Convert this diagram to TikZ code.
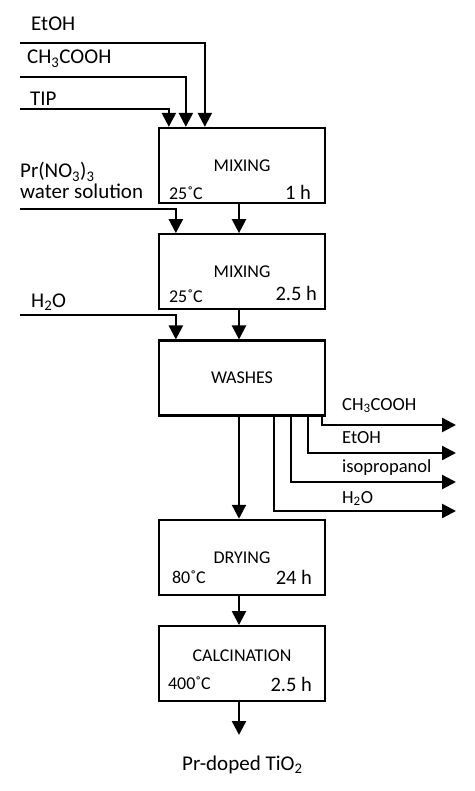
\documentclass[tikz,border=0pt]{standalone}
\usepackage{fontspec}
\setmainfont{Carlito}
\usetikzlibrary{
	positioning,
	calc,
	arrows.meta
}

\begin{document}
\begin{tikzpicture}[
	x=1pt, y=-1pt,
	node distance =29pt,
	stage/.style = {
		rectangle,
		draw,
		line width=2.3pt,
		minimum width=166pt,
		minimum height=75pt,
		font=\fontsize{18}{20}\selectfont
	},
	feed/.style = {anchor=base west, inner sep=0pt, font=\fontsize{21}{24}\selectfont},
	waste/.style = {anchor=base west, inner sep=0pt, font=\fontsize{18.5}{22}\selectfont},
	temp/.style = {anchor=base west, inner sep=0pt, font=\fontsize{18}{20}\selectfont},
	dur/.style = {anchor=base east, inner sep=0pt, font=\fontsize{20.5}{22}\selectfont},
	flow/.style = {line width=2.3pt, -{Triangle[length=14pt,width=14pt]}},
]
	\useasboundingbox (0,0) rectangle (474,791);

	\node (mix1) [stage] at (242,165.5) {MIXING};
	\node (mix2) [stage, below=of mix1] {MIXING};
	\node (wash) [stage, below=of mix2] {WASHES};
	\node (dry) [stage, below=102pt of wash] {DRYING};
	\node (calc) [stage, below=of dry, text depth=16pt] {CALCINATION};

	\node (mix1T) [temp] at ($(mix1.south west)+(11,-5)$) {25˚C};
	\node (mix1D) [dur] at ($(mix1.south east)+(-15,-5)$) {1 h};
	\node (mix2T) [temp] at ($(mix2.south west)+(11,-8)$) {25˚C};
	\node (mix2D) [dur] at ($(mix2.south east)+(-9,-10)$) {2.5 h};
	\node (dryT) [temp] at ($(dry.south west)+(14,-13)$) {80˚C};
	\node (dryD) [dur] at ($(dry.south east)+(-14,-12)$) {24 h};
	\node (calcT) [temp] at ($(calc.south west)+(10,-13)$) {400˚C};
	\node (calcD) [dur] at ($(calc.south east)+(-14,-11)$) {2.5 h};

	% feeds
	\coordinate (etohIn) at (20,43);
	\coordinate (acidIn) at (20,77);
	\coordinate (tipIn) at (20,109);
	\coordinate (prIn) at (20,209);
	\coordinate (waterIn) at (20,315);

	\node (etohL) [feed] at (31,31) {EtOH};
	\node (acidL) [feed] at (27,64) {CH\textsubscript{3}COOH};
	\node (tipL) [feed] at (30,106) {TIP};
	\node (prL) [feed] at (20,178) {Pr(NO\textsubscript{3})\textsubscript{3}};
	\node (solL) [feed] at (20,199) {water solution};
	\node (waterL) [feed] at (31,307) {H\textsubscript{2}O};

	\draw[flow] (tipIn) -| ($(mix1.north west)+(11,0)$);
	\draw[flow] (acidIn) -| ($(mix1.north west)+(28,0)$);
	\draw[flow] (etohIn) -| ($(mix1.north west)+(47,0)$);
	\draw[flow] (prIn) -| ($(mix2.north west)+(18,0)$);
	\draw[flow] (waterIn) -| ($(wash.north west)+(18,0)$);

	% main line
	\draw[flow] ($(mix1.south)+(-3,0)$) -- ($(mix2.north)+(-3,0)$);
	\draw[flow] ($(mix2.south)+(-3,0)$) -- ($(wash.north)+(-3,0)$);
	\draw[flow] ($(wash.south)+(-3,0)$) -- ($(dry.north)+(-3,0)$);
	\draw[flow] ($(dry.south)+(-3,0)$) -- ($(calc.north)+(-3,0)$);

	% wash outlets
	\coordinate (acidOut) at (456,425);
	\coordinate (etohOut) at (456,453);
	\coordinate (isoOut) at (456,482);
	\coordinate (waterOut) at (456,511);

	\node (acidR) [waste] at (342,410) {CH\textsubscript{3}COOH};
	\node (etohR) [waste] at (342,443) {EtOH};
	\node (isoR) [waste] at (342,472) {isopropanol};
	\node (waterR) [waste] at (342,503) {H\textsubscript{2}O};

	\draw[flow] ($(wash.south east)+(-4,0)$) |- (acidOut);
	\draw[flow] ($(wash.south east)+(-18,0)$) |- (etohOut);
	\draw[flow] ($(wash.south east)+(-35,0)$) |- (isoOut);
	\draw[flow] ($(wash.south east)+(-52,0)$) |- (waterOut);

	% product
	\coordinate (prodIn) at (239,735);
	\node (prod) [feed] at (182,770) {Pr-doped TiO\textsubscript{2}};
	\draw[flow] ($(calc.south)+(-3,0)$) -- (prodIn);
\end{tikzpicture}
\end{document}
